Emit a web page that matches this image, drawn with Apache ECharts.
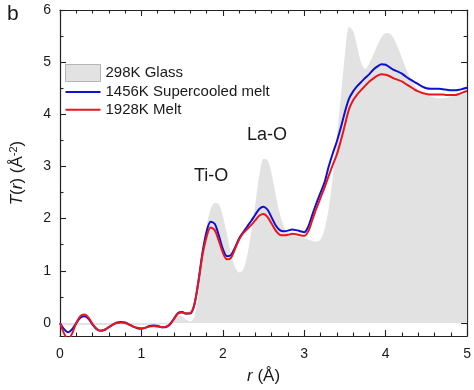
<!DOCTYPE html>
<html>
<head>
<meta charset="utf-8">
<script src="https://cdn.jsdelivr.net/npm/echarts@6/dist/echarts.min.js"></script>
<style>html,body{margin:0;padding:0;background:#fff}#c{width:474px;height:390px}</style>
</head>
<body>
<div id="c"></div>
<script>
var rValues = [
 0,0.05,0.1,0.15,0.2,0.25,0.3,0.35,0.4,0.45,
 0.5,0.55,0.6,0.65,0.7,0.75,0.8,0.85,0.9,0.95,
 1,1.05,1.1,1.15,1.2,1.25,1.3,1.35,1.4,1.45,
 1.5,1.55,1.6,1.65,1.7,1.75,1.8,1.85,1.9,1.95,
 2,2.05,2.1,2.15,2.2,2.25,2.3,2.35,2.4,2.45,
 2.5,2.55,2.6,2.65,2.7,2.75,2.8,2.85,2.9,2.95,
 3,3.05,3.1,3.15,3.2,3.25,3.3,3.35,3.4,3.45,
 3.5,3.55,3.6,3.65,3.7,3.75,3.8,3.85,3.9,3.95,
 4,4.05,4.1,4.15,4.2,4.25,4.3,4.35,4.4,4.45,
 4.5,4.55,4.6,4.65,4.7,4.75,4.8,4.85,4.9,4.95,
 5
];
var glass298 = [
 -0.03,-0.04,-0.05,-0.05,-0.05,-0.04,-0.04,-0.04,-0.04,-0.04,
 -0.04,-0.04,-0.04,-0.03,-0.03,-0.03,-0.03,-0.03,-0.04,-0.04,
 -0.04,-0.04,-0.04,-0.04,-0.04,-0.03,-0.02,0.02,0.08,0.14,
 0.13,0.06,0.03,0.12,0.55,1.25,1.85,2.18,2.3,2.28,
 2.05,1.7,1.32,1.07,0.97,1.02,1.3,1.75,2.3,2.85,
 3.15,3.12,2.85,2.45,2.1,1.85,1.72,1.68,1.66,1.65,
 1.63,1.6,1.57,1.56,1.6,1.8,2.2,2.8,3.55,4.35,
 5.15,5.68,5.6,5.3,4.98,4.87,4.98,5.15,5.33,5.48,
 5.56,5.55,5.45,5.28,5.08,4.88,4.7,4.56,4.46,4.4,
 4.36,4.34,4.32,4.31,4.31,4.32,4.34,4.35,4.37,4.39,
 4.42
];
var super1456 = [
 0,-0.12,-0.18,-0.12,0,0.1,0.13,0.08,-0.03,-0.12,
 -0.15,-0.13,-0.08,-0.03,0.01,0.02,0.01,-0.03,-0.07,-0.1,
 -0.11,-0.09,-0.06,-0.05,-0.06,-0.08,-0.08,-0.03,0.08,0.19,
 0.21,0.18,0.18,0.35,0.8,1.35,1.75,1.94,1.9,1.68,
 1.42,1.28,1.3,1.45,1.62,1.74,1.85,1.96,2.08,2.19,
 2.23,2.17,2.02,1.87,1.78,1.76,1.77,1.79,1.78,1.76,
 1.74,1.85,2.08,2.3,2.5,2.7,3.0,3.25,3.48,3.75,
 4.05,4.3,4.44,4.54,4.62,4.7,4.77,4.86,4.92,4.96,
 4.95,4.9,4.85,4.82,4.78,4.72,4.67,4.62,4.58,4.53,
 4.5,4.49,4.49,4.49,4.48,4.47,4.46,4.46,4.47,4.49,
 4.51
];
var melt1928 = [
 0,-0.2,-0.32,-0.2,0,0.13,0.16,0.1,-0.02,-0.11,
 -0.15,-0.13,-0.08,-0.03,0,0.01,0,-0.03,-0.07,-0.09,
 -0.1,-0.09,-0.07,-0.06,-0.07,-0.08,-0.07,-0.02,0.08,0.18,
 0.2,0.18,0.19,0.35,0.78,1.3,1.65,1.83,1.78,1.58,
 1.35,1.22,1.25,1.42,1.6,1.72,1.8,1.88,1.97,2.06,
 2.09,2.03,1.9,1.77,1.69,1.68,1.69,1.71,1.7,1.68,
 1.67,1.76,1.98,2.2,2.4,2.6,2.82,3.03,3.23,3.5,
 3.8,4.1,4.27,4.38,4.47,4.55,4.63,4.69,4.74,4.77,
 4.76,4.73,4.69,4.66,4.63,4.58,4.53,4.48,4.44,4.41,
 4.39,4.38,4.38,4.38,4.38,4.37,4.37,4.37,4.39,4.42,
 4.45
];
var seriesNames = ['298K Glass', '1456K Supercooled melt', '1928K Melt'];
var yMajorTicks = [0, 1, 2, 3, 4, 5, 6];
var yMinorTicks = [0.5, 1.5, 2.5, 3.5, 4.5, 5.5];

function pairs(vals) { return rValues.map(function (r, i) { return [r, vals[i]]; }); }

var FONT = '"Liberation Sans", Arial, sans-serif';
var TXT = '#1a1a1a';
var BLUE = '#1010d2', RED = '#e8161e', GRAY = '#e2e2e2';
var chart = echarts.init(document.getElementById('c'), null, { renderer: 'canvas' });

function yAx(pos, ticks, len, labels, line) {
  return {
    type: 'value', position: pos, min: -0.25, max: 6,
    axisLine: { show: line, onZero: false, lineStyle: { color: '#222', width: 1.2 } },
    axisTick: { show: true, inside: true, length: len, customValues: ticks, lineStyle: { color: '#222', width: 1.1 } },
    axisLabel: { show: labels, customValues: ticks, margin: 9, color: TXT, fontSize: 14, fontFamily: FONT },
    splitLine: { show: false }
  };
}
function xAx(pos, labels) {
  return {
    type: 'value', position: pos, min: 0, max: 5, interval: 1,
    axisLine: { show: true, onZero: false, lineStyle: { color: '#222', width: 1.2 } },
    axisTick: { show: true, inside: true, length: 6, lineStyle: { color: '#222', width: 1.1 } },
    minorTick: { show: true, splitNumber: 5, length: 3.5, lineStyle: { color: '#222', width: 1.1 } },
    axisLabel: { show: labels, margin: 11, color: TXT, fontSize: 14, fontFamily: FONT },
    splitLine: { show: false }, minorSplitLine: { show: false }
  };
}

var xBottom = xAx('bottom', true);
xBottom.name = '{i|r} ({n|Å})';
xBottom.nameLocation = 'middle';
xBottom.nameGap = 32;
xBottom.nameTextStyle = { color: TXT, fontSize: 17, fontFamily: FONT,
  rich: { i: { fontStyle: 'italic', fontSize: 17, fontFamily: FONT, color: TXT }, n: { fontSize: 17, fontFamily: FONT, color: TXT } } };

var yLeft = yAx('left', yMajorTicks, 6, true, true);
yLeft.name = '{i|T}({i|r}) (Å{s|-2})';
yLeft.nameLocation = 'middle';
yLeft.nameRotate = 90;
yLeft.nameGap = 33;
yLeft.nameTextStyle = { color: TXT, fontSize: 17, fontFamily: FONT,
  rich: { i: { fontStyle: 'italic', fontSize: 17, fontFamily: FONT, color: TXT },
          s: { fontSize: 11, fontFamily: FONT, color: TXT, verticalAlign: 'top', padding: [0, 0, 8, 0] } } };

var LINE_ICON = 'path://M0,0H70V4H0Z';

var option = {
  animation: false,
  backgroundColor: '#fff',
  grid: { left: 58, right: 6, top: 10, bottom: 50, containLabel: false },
  xAxis: [xBottom, xAx('top', false)],
  yAxis: [
    yLeft,
    yAx('left', yMinorTicks, 3.5, false, false),
    yAx('right', yMajorTicks, 6, false, true),
    yAx('right', yMinorTicks, 3.5, false, false)
  ],
  legend: {
    orient: 'vertical', left: 65, top: 64, padding: 0, itemWidth: 35, itemHeight: 17, itemGap: 2.6,
    symbolKeepAspect: true,
    textStyle: { color: TXT, fontSize: 15, fontFamily: FONT },
    data: [
      { name: seriesNames[0], icon: 'rect', itemStyle: { color: GRAY, borderColor: '#b5b5b5', borderWidth: 1 } },
      { name: seriesNames[1], icon: LINE_ICON, itemStyle: { color: BLUE, borderWidth: 0 } },
      { name: seriesNames[2], icon: LINE_ICON, itemStyle: { color: RED, borderWidth: 0 } }
    ],
    selectedMode: false
  },
  graphic: [
    { type: 'text', left: 7, top: 4, style: { text: 'b', fontSize: 21, fontFamily: FONT, fill: TXT } },
    { type: 'text', left: 194, top: 167, style: { text: 'Ti-O', fontSize: 18, fontFamily: FONT, fill: TXT } },
    { type: 'text', left: 247, top: 126, style: { text: 'La-O', fontSize: 18, fontFamily: FONT, fill: TXT } }
  ],
  series: [
    { name: seriesNames[0], type: 'line', data: pairs(glass298), smooth: 0.3, symbol: 'none',
      color: GRAY, lineStyle: { width: 0, color: GRAY },
      areaStyle: { color: GRAY, opacity: 1, origin: 0 }, z: 1 },
    { name: seriesNames[1], type: 'line', data: pairs(super1456), smooth: 0.3, symbol: 'none',
      color: BLUE, lineStyle: { width: 2, color: BLUE }, z: 3 },
    { name: seriesNames[2], type: 'line', data: pairs(melt1928), smooth: 0.3, symbol: 'none',
      color: RED, lineStyle: { width: 2, color: RED }, z: 4 }
  ]
};
chart.setOption(option);
</script>
</body>
</html>
